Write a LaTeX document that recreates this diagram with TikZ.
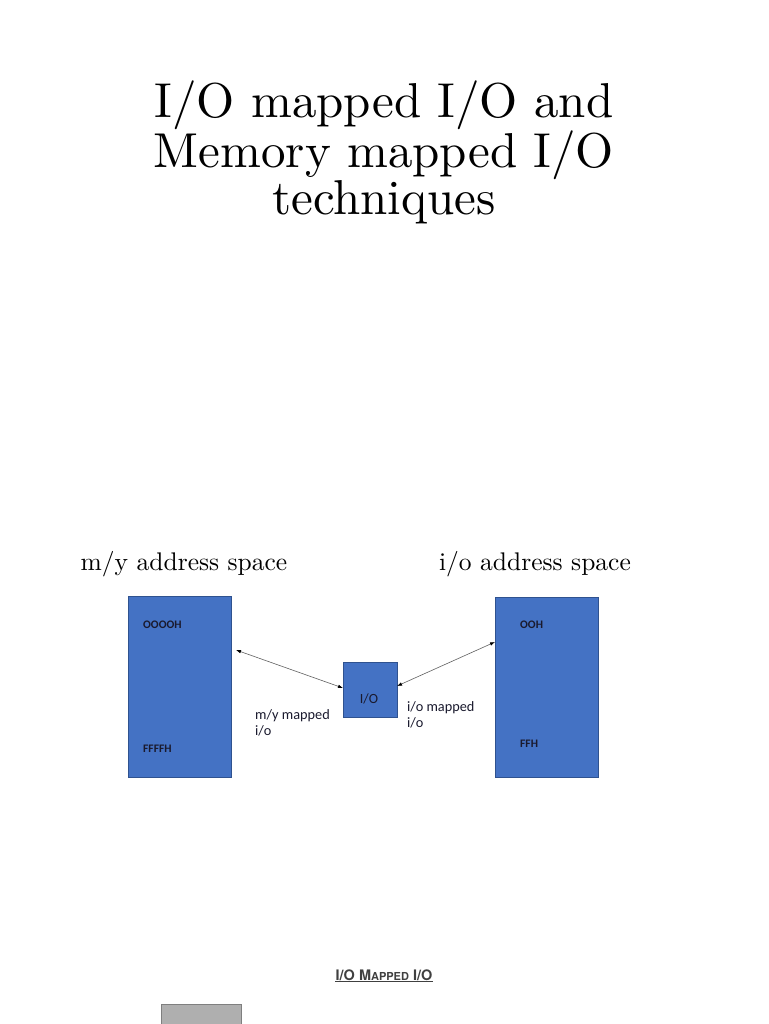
\documentclass[tikz,border=0pt]{standalone}
\usepackage{fontspec}
\newfontfamily\carlito{Carlito}
\newfontfamily\heros{TeX Gyre Heros}
\newfontfamily\lmten{lmroman10-regular}[Extension=.otf]
\usetikzlibrary{arrows.meta}
\definecolor{boxblue}{HTML}{4472C4}
\definecolor{boxedge}{HTML}{2F528F}
\definecolor{txtdark}{HTML}{1A1A2E}
\definecolor{greyfill}{HTML}{AFAFAF}
\definecolor{greyedge}{HTML}{7F7F7F}
\tikzset{
  bluebox/.style={draw=boxedge, fill=boxblue, line width=0.6pt, inner sep=0pt},
  boxlabel/.style={font=\carlito\bfseries\fontsize{11.5}{13}\selectfont, text=txtdark, anchor=west, inner sep=0pt},
  smalllabel/.style={font=\carlito\fontsize{14.3}{16}\selectfont, text=txtdark, anchor=north west, align=left, inner sep=0pt},
  spacelabel/.style={font=\lmten\fontsize{25.5}{28}\selectfont, anchor=base, inner sep=0pt},
  link/.style={draw=gray!75!black, line width=0.6pt, {Latex[length=5pt,width=3.5pt,black]}-{Latex[length=5pt,width=3.5pt,black]}}
}
\begin{document}
\begin{tikzpicture}[x=1pt,y=-1pt]
\useasboundingbox (0,0) rectangle (768,1024);
\fill[white] (0,0) rectangle (768,1024);
% title
\node[font=\lmten\fontsize{49}{47}\selectfont, align=center, anchor=north, inner sep=0pt] (title) at (384,81)
  {I/O mapped I/O and\\Memory mapped I/O\\techniques};
% address space labels
\node[spacelabel] (mylab) at (184,570) {m/y address space};
\node[spacelabel] (iolab) at (535,570) {i/o address space};
% boxes
\node[bluebox, minimum width=103pt, minimum height=181pt, anchor=north west] (mem) at (128,596) {};
\node[bluebox, minimum width=103pt, minimum height=180pt, anchor=north west] (iosp) at (495,597) {};
\node[bluebox, minimum width=54pt, minimum height=55pt, anchor=north west] (io) at (343,662) {};
\node[font=\carlito\fontsize{14}{16}\selectfont, text=txtdark, inner sep=0pt] (iotext) at (369,699) {I/O};
% labels in boxes
\node[boxlabel] (m0) at (143,625) {OOOOH};
\node[boxlabel] (m1) at (143,749) {FFFFH};
\node[boxlabel] (i0) at (520,625) {OOH};
\node[boxlabel] (i1) at (520,744) {FFH};
% connector labels
\node[smalllabel] (mylink) at (255,709) {m/y mapped\\i/o};
\node[smalllabel] (iolink) at (407,701) {i/o mapped\\i/o};
% connectors
\coordinate (memE) at (236,650);
\coordinate (ioW) at (343,688);
\coordinate (ioE) at (397,686);
\coordinate (spW) at (495,642);
\draw[link] (memE) -- (ioW);
\draw[link] (ioE) -- (spW);
% bottom
\node[font=\heros\bfseries\fontsize{14.5}{16}\selectfont, text=black!75, inner sep=0pt, anchor=base] (sub) at (384,980)
  {I/O M{\fontsize{11}{12}\selectfont APPED} I/O};
\draw[black!75, line width=1pt] ([yshift=-1.5pt]sub.south west) -- ([yshift=-1.5pt]sub.south east);
\node[draw=greyedge, fill=greyfill, line width=1.2pt, minimum width=80pt, minimum height=30pt, anchor=north west, inner sep=0pt] (grey) at (161,1004) {};
\end{tikzpicture}
\end{document}
